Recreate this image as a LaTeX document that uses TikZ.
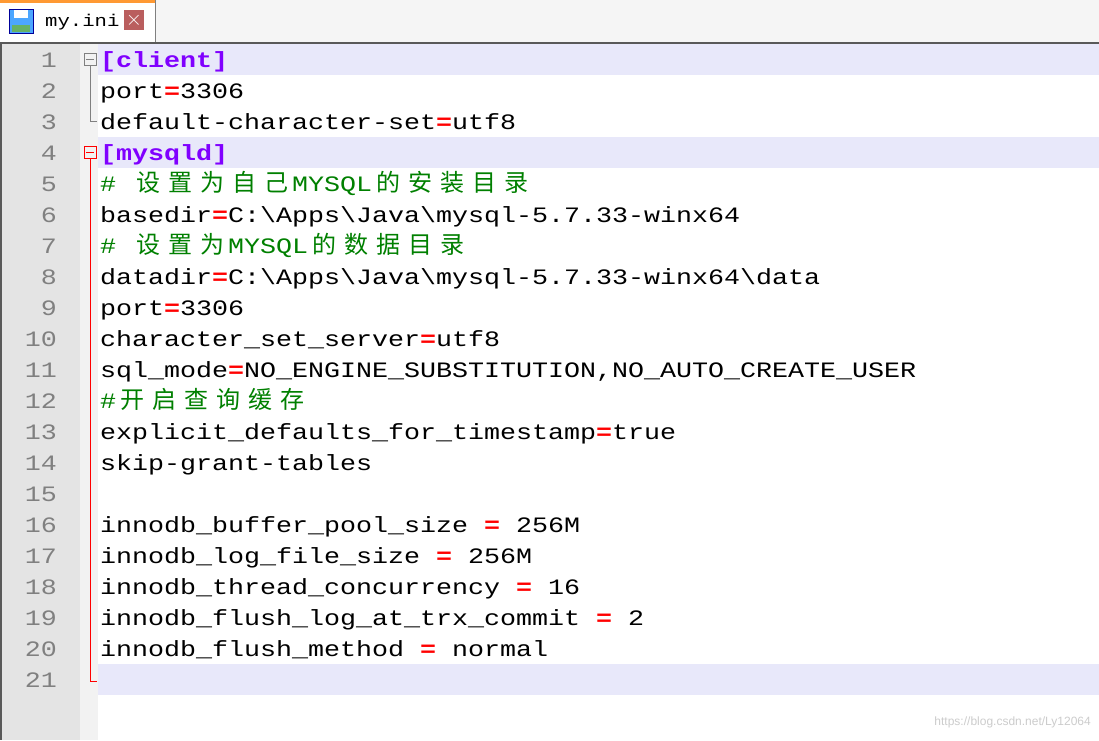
\documentclass[tikz,border=0pt]{standalone}
\usepackage{fontspec}
\setmonofont[FakeStretch=1.212]{Liberation Mono}
\newfontfamily\cjk{Noto Sans CJK SC}
\newfontfamily\wm{Liberation Sans}
\definecolor{hl}{HTML}{E8E8FA}
\definecolor{gut}{HTML}{E4E4E4}
\definecolor{fold}{HTML}{F2F2F2}
\definecolor{cm}{HTML}{008000}
\definecolor{sec}{HTML}{8000FF}
\definecolor{ln}{HTML}{808080}
\newcommand\C[1]{\makebox[32pt]{\fontsize{24}{24}\cjk #1}}
\newcommand\EQ{\textcolor{red}{\textbf{=}}}
\tikzset{code/.style={anchor=base west,inner sep=0pt,font=\ttfamily\fontsize{22}{22}\selectfont},
 num/.style={anchor=base east,inner sep=0pt,text=ln,font=\ttfamily\fontsize{22}{22}\selectfont},
 comment/.style={code,text=cm}}
\begin{document}
\begin{tikzpicture}[x=1pt,y=-1pt]
\useasboundingbox (0,0) rectangle (1099,740);
\fill[fold!80] (0,0) rectangle (1099,42);
\fill[white] (0,0) rectangle (155,42);
\fill[orange!80] (0,0) rectangle (155,3);
\draw[gray] (155,0) -- (155,42);
\fill[white] (0,43) rectangle (1099,740);
\draw[gray!70!black,line width=1.5pt] (0,43) -- (1099,43);
\draw[gray!70!black,line width=1.5pt] (1,43) -- (1,740);
% tab content
\node[draw=blue!60!black,fill=blue!50!cyan!70,minimum size=24pt,inner sep=0pt] (ico) at (21,21) {};
\fill[white] (14,10) rectangle (28,18);
\fill[green!50!black!60] (12,25) rectangle (30,32);
\node[anchor=west,inner sep=0pt,font=\ttfamily\fontsize{17}{17}\selectfont] (tab) at (45,22) {my.ini};
\node[fill=red!40!gray!90,minimum size=20pt,inner sep=0pt,text=white,font=\sffamily\bfseries\huge] (close) at (134,20) {$\times$};
% gutters
\fill[gut] (2,44) rectangle (80,740);
\fill[fold] (80,44) rectangle (98,740);
\foreach \y in {44,137,664} \fill[hl] (98,\y) rectangle (1099,\y+31);
% fold markers
\draw[gray] (84,53) rectangle (96,65); \draw[gray] (86,59) -- (94,59);
\draw[gray] (90,65) -- (90,121) -- (97,121);
\draw[red] (84,146) rectangle (96,158); \draw[red] (86,152) -- (94,152);
\draw[red] (90,158) -- (90,681) -- (97,681);
% line numbers
\foreach \n in {1,...,21} \node[num] (n\n) at (57,67+31*\n-31) {\n};
% code lines
\node[code,text=sec,font=\ttfamily\bfseries\fontsize{22}{22}\selectfont] (l1) at (100,67) {[client]};
\node[code] (l2) at (100,98) {port\EQ3306};
\node[code] (l3) at (100,129) {default-character-set\EQ utf8};
\node[code,text=sec,font=\ttfamily\bfseries\fontsize{22}{22}\selectfont] (l4) at (100,160) {[mysqld]};
\node[comment] (l5) at (100,191) {\#~\C{设}\C{置}\C{为}\C{自}\C{己}MYSQL\C{的}\C{安}\C{装}\C{目}\C{录}};
\node[code] (l6) at (100,222) {basedir\EQ C:\textbackslash Apps\textbackslash Java\textbackslash mysql-5.7.33-winx64};
\node[comment] (l7) at (100,253) {\#~\C{设}\C{置}\C{为}MYSQL\C{的}\C{数}\C{据}\C{目}\C{录}};
\node[code] (l8) at (100,284) {datadir\EQ C:\textbackslash Apps\textbackslash Java\textbackslash mysql-5.7.33-winx64\textbackslash data};
\node[code] (l9) at (100,315) {port\EQ3306};
\node[code] (l10) at (100,346) {character\_set\_server\EQ utf8};
\node[code] (l11) at (100,377) {sql\_mode\EQ NO\_ENGINE\_SUBSTITUTION,NO\_AUTO\_CREATE\_USER};
\node[comment] (l12) at (100,408) {\#\C{开}\C{启}\C{查}\C{询}\C{缓}\C{存}};
\node[code] (l13) at (100,439) {explicit\_defaults\_for\_timestamp\EQ true};
\node[code] (l14) at (100,470) {skip-grant-tables};
\node[code] (l16) at (100,532) {innodb\_buffer\_pool\_size~\EQ~256M};
\node[code] (l17) at (100,563) {innodb\_log\_file\_size~\EQ~256M};
\node[code] (l18) at (100,594) {innodb\_thread\_concurrency~\EQ~16};
\node[code] (l19) at (100,625) {innodb\_flush\_log\_at\_trx\_commit~\EQ~2};
\node[code] (l20) at (100,656) {innodb\_flush\_method~\EQ~normal};
\node[anchor=east,inner sep=0pt,text=gray!40,font=\wm\fontsize{12}{12}\selectfont] (wm) at (1091,722) {https://blog.csdn.net/Ly12064};
\end{tikzpicture}
\end{document}
